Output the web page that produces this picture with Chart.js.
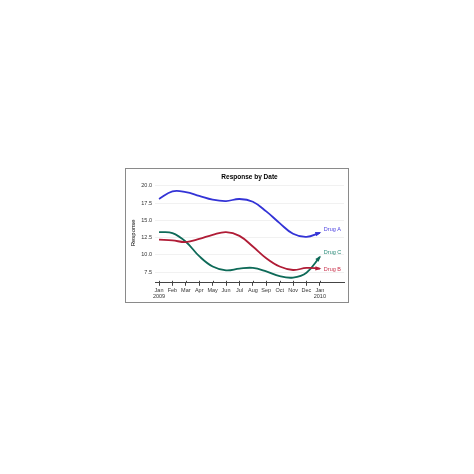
<!DOCTYPE html>
<html>
<head>
<meta charset="utf-8">
<script src="https://cdn.jsdelivr.net/npm/chart.js@4"></script>
<style>
  html, body { margin: 0; padding: 0; background: #fff; }
  #frame {
    position: absolute; left: 125px; top: 168px;
    width: 222px; height: 133px;
    border: 1px solid #8a8a8a;
  }
  canvas { display: block; }
</style>
</head>
<body>
<div id="frame"><canvas id="grafico" width="222" height="133"></canvas></div>
<script>
// dados
const meses = [["Jan", "2009"], "Feb", "Mar", "Apr", "May", "Jun", "Jul", "Aug", "Sep", "Oct", "Nov", "Dec", ["Jan", "2010"]];
const drugA = [18.1, 19.2, 19.1, 18.55, 18.0, 17.8, 18.1, 17.7, 16.3, 14.6, 13.05, 12.6, 13.2];
const drugB = [12.2, 12.1, 11.85, 12.3, 12.9, 13.3, 12.75, 11.2, 9.5, 8.3, 7.8, 8.1, 8.0];
const drugC = [13.3, 13.15, 11.9, 9.8, 8.3, 7.75, 8.0, 8.1, 7.6, 6.9, 6.7, 7.4, 9.7];
const yTicks = [7.5, 10.0, 12.5, 15.0, 17.5, 20.0];

const fonte = "'Liberation Sans', Arial, sans-serif";

function pontos(valores) {
    return valores.map((v, i) => ({ x: i, y: v }));
}

// setas e rótulos no fim de cada linha
const setasPlugin = {
    id: "setas",
    afterDatasetsDraw(chart) {
        const ctx = chart.ctx;
        chart.data.datasets.forEach((ds, i) => {
            const meta = chart.getDatasetMeta(i);
            const ult = meta.data[meta.data.length - 1];
            const ang = Math.atan2(ult.y - ult.cp1y, ult.x - ult.cp1x);
            const tam = 5;
            ctx.save();
            ctx.fillStyle = ds.borderColor;
            ctx.beginPath();
            ctx.moveTo(ult.x + Math.cos(ang) * 1.5, ult.y + Math.sin(ang) * 1.5);
            ctx.lineTo(ult.x - Math.cos(ang - 0.45) * tam, ult.y - Math.sin(ang - 0.45) * tam);
            ctx.lineTo(ult.x - Math.cos(ang + 0.45) * tam, ult.y - Math.sin(ang + 0.45) * tam);
            ctx.closePath();
            ctx.fill();
            ctx.font = "5.5px " + fonte;
            ctx.fillStyle = ds.labelColor;
            ctx.textBaseline = "middle";
            ctx.fillText(ds.label, ult.x + 4, ult.y + ds.labelDy);
            ctx.restore();
        });
        // tracinhos acima do eixo x (as marcas cruzam o eixo)
        const sx = chart.scales.x;
        ctx.save();
        ctx.strokeStyle = "#444";
        ctx.lineWidth = 1;
        sx.ticks.forEach(t => {
            const px = Math.round(sx.getPixelForValue(t.value)) + 0.5;
            ctx.beginPath();
            ctx.moveTo(px, sx.top);
            ctx.lineTo(px, sx.top - 2);
            ctx.stroke();
        });
        ctx.restore();
    }
};

new Chart(document.getElementById("grafico").getContext("2d"), {
    type: "line",
    data: {
        datasets: [
            { label: "Drug A", data: pontos(drugA), borderColor: "#3333d6", labelColor: "#4a3fe0", labelDy: -3 },
            { label: "Drug B", data: pontos(drugB), borderColor: "#b01c36", labelColor: "#c8304a", labelDy: 1 },
            { label: "Drug C", data: pontos(drugC), borderColor: "#0e6a58", labelColor: "#2a8a78", labelDy: -4 }
        ].map(d => Object.assign(d, { borderWidth: 1.8, pointRadius: 0, tension: 0.4, fill: false }))
    },
    options: {
        responsive: false,
        animation: false,
        layout: { padding: { right: 4, left: 4, bottom: 1 } },
        plugins: {
            legend: { display: false },
            tooltip: { enabled: false },
            title: {
                display: true,
                fullSize: false,
                text: "Response by Date",
                color: "#000",
                font: { family: fonte, size: 6.5, weight: "bold" },
                padding: { top: 4, bottom: 2 }
            }
        },
        scales: {
            x: {
                type: "linear",
                min: -0.3,
                max: 13.8,
                afterBuildTicks: s => { s.ticks = meses.map((m, i) => ({ value: i })); },
                ticks: {
                    callback: v => meses[v],
                    color: "#333",
                    font: { family: fonte, size: 5.5 },
                    maxRotation: 0,
                    autoSkip: false,
                    padding: 1
                },
                grid: { drawOnChartArea: false, drawTicks: true, tickLength: 3, color: "#444" },
                border: { color: "#444", width: 1 }
            },
            y: {
                min: 5.94,
                max: 20.45,
                afterBuildTicks: s => { s.ticks = yTicks.map(v => ({ value: v })); },
                afterFit: s => { s.width = 25; },
                ticks: {
                    callback: v => v.toFixed(1),
                    color: "#333",
                    font: { family: fonte, size: 5.5 },
                    padding: 3
                },
                grid: { color: "#eeeeee", drawTicks: false, lineWidth: 0.8 },
                border: { display: false },
                title: {
                    display: true,
                    text: "Response",
                    color: "#000",
                    font: { family: fonte, size: 6 },
                    padding: 0
                }
            }
        }
    },
    plugins: [setasPlugin]
});
</script>
</body>
</html>
